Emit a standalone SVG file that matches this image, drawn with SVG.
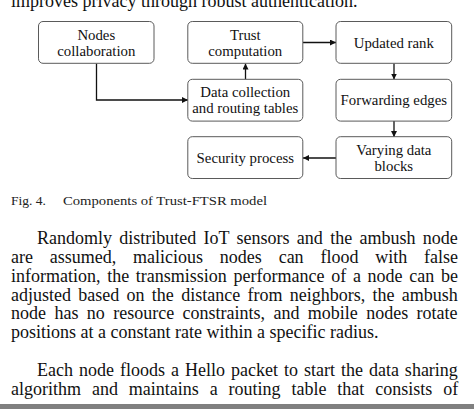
<svg xmlns="http://www.w3.org/2000/svg" width="474" height="409" viewBox="0 0 474 409">
<style>
.box{fill:#fff;stroke:#5a5a5a;stroke-width:1}
.bt{font-family:"Liberation Serif","Times New Roman",serif;font-size:14.8px;fill:#111;text-anchor:middle}
.body{font-family:"Liberation Serif","Times New Roman",serif;font-size:18px;fill:#111}
.cap{font-family:"Liberation Serif","Times New Roman",serif;font-size:13.5px;fill:#222}
.con{fill:none;stroke:#111;stroke-width:1.3}
</style>
<defs>
<marker id="ah" viewBox="0 0 6 6" refX="6" refY="3" markerWidth="6" markerHeight="6" markerUnits="userSpaceOnUse" orient="auto">
<path d="M0,0 L6,3 L0,6 Z" fill="#111"/>
</marker>
</defs>
<rect width="474" height="409" fill="#fff"/>
<text class="body" x="11" y="7">improves privacy through robust authentication.</text>

<g id="connectors">
<path class="con" d="M96.5,63.5 V100 H188" marker-end="url(#ah)"/>
<path class="con" d="M245.5,79.5 V63.5" marker-end="url(#ah)"/>
<path class="con" d="M303,42.5 H336" marker-end="url(#ah)"/>
<path class="con" d="M394,63.5 V79.5" marker-end="url(#ah)"/>
<path class="con" d="M394,121 V137" marker-end="url(#ah)"/>
<path class="con" d="M336,158 H303" marker-end="url(#ah)"/>
</g>

<g id="nodes-collaboration">
<rect class="box" x="38.5" y="21.5" width="115.5" height="41.8" rx="4.5"/>
<text class="bt" x="96.3" y="39.5">Nodes</text>
<text class="bt" x="96.3" y="55.5">collaboration</text>
</g>
<g id="trust-computation">
<rect class="box" x="187.8" y="21.5" width="115" height="41.8" rx="4.5"/>
<text class="bt" x="245.3" y="39.5">Trust</text>
<text class="bt" x="245.3" y="55.5">computation</text>
</g>
<g id="updated-rank">
<rect class="box" x="336" y="21.5" width="115.7" height="41.8" rx="4.5"/>
<text class="bt" x="393.8" y="47.5">Updated rank</text>
</g>
<g id="data-collection">
<rect class="box" x="187.8" y="79.3" width="115" height="41.8" rx="4.5"/>
<text class="bt" x="245.3" y="97">Data collection</text>
<text class="bt" x="245.3" y="113">and routing tables</text>
</g>
<g id="forwarding-edges">
<rect class="box" x="336" y="79.3" width="115.7" height="41.8" rx="4.5"/>
<text class="bt" x="393.8" y="105">Forwarding edges</text>
</g>
<g id="security-process">
<rect class="box" x="187.8" y="136.7" width="115" height="41.8" rx="4.5"/>
<text class="bt" x="245.3" y="162.5">Security process</text>
</g>
<g id="varying-data-blocks">
<rect class="box" x="336" y="136.7" width="115.7" height="41.8" rx="4.5"/>
<text class="bt" x="393.8" y="154.5">Varying data</text>
<text class="bt" x="393.8" y="170.5">blocks</text>
</g>

<text class="cap" x="11" y="205">Fig. 4.</text>
<text class="cap" x="63" y="205" textLength="204" lengthAdjust="spacingAndGlyphs">Components of Trust-FTSR model</text>

<text class="body" x="37" y="244" word-spacing="2.8">Randomly distributed IoT sensors and the ambush node</text>
<text class="body" x="11" y="263" word-spacing="12.3">are assumed, malicious nodes can flood with false</text>
<text class="body" x="11" y="282" word-spacing="2.2">information, the transmission performance of a node can be</text>
<text class="body" x="11" y="300.5" word-spacing="2.8">adjusted based on the distance from neighbors, the ambush</text>
<text class="body" x="11" y="319" word-spacing="3.9">node has no resource constraints, and mobile nodes rotate</text>
<text class="body" x="11" y="337.5">positions at a constant rate within a specific radius.</text>
<text class="body" x="37" y="376" word-spacing="1.5">Each node floods a Hello packet to start the data sharing</text>
<text class="body" x="11" y="394.5" word-spacing="6.4">algorithm and maintains a routing table that consists of</text>
<rect x="0" y="404" width="474" height="5" fill="#808080"/>
</svg>
